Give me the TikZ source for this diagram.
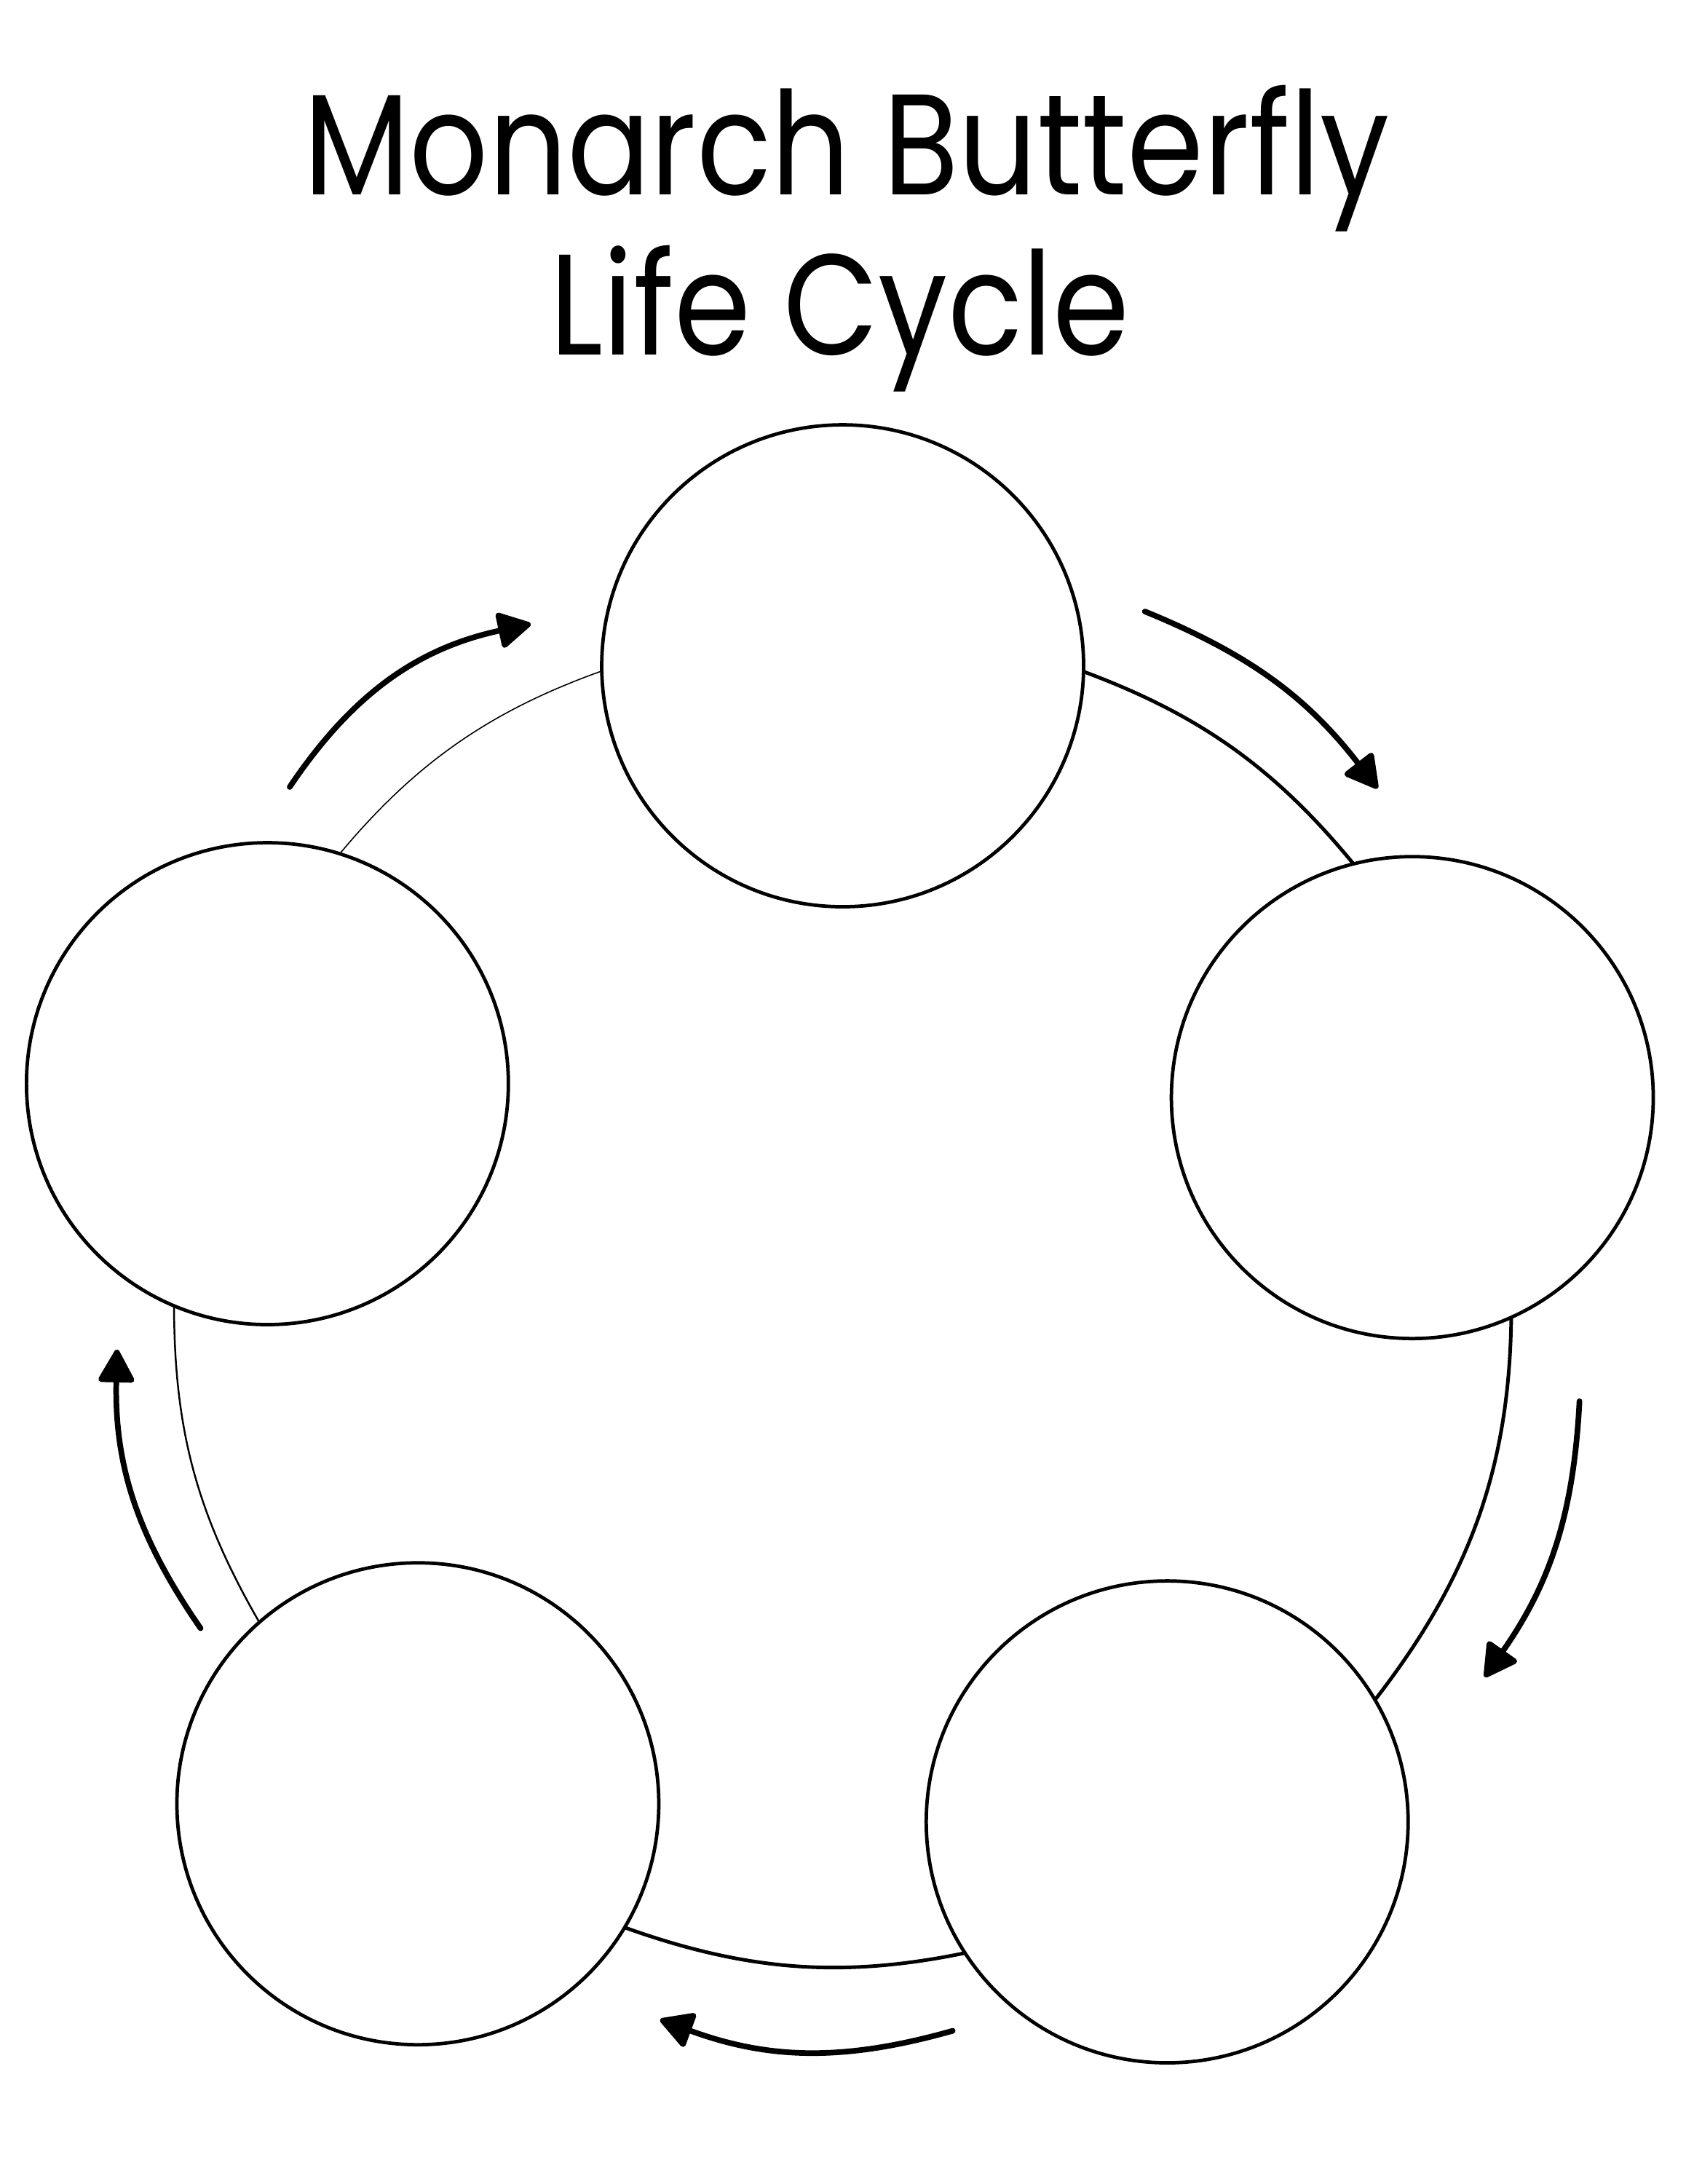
\documentclass[tikz,border=0pt]{standalone}
\usepackage{fontspec}
\newfontfamily\titlefont{Poppins}[FakeStretch=0.86]
\usetikzlibrary{positioning,calc,arrows,arrows.meta,backgrounds}
\tikzset{font=\small}

\begin{document}
\begin{tikzpicture}[x=0.019132cm, y=0.019132cm]
	\useasboundingbox (0,0) rectangle (1210,-1568);
	\begin{scope}
		\tikzstyle{stage}=[circle, draw, line width=1.35pt, fill=white, minimum size=6.62cm, inner sep=0pt]
		\tikzstyle{ringthin}=[line width=0.45pt]
		\tikzstyle{ringmid}=[line width=0.7pt]
		\tikzstyle{ringthick}=[line width=1.4pt]
		\tikzstyle{cyclearrow}=[line width=2.2pt, line cap=round, -{Triangle[length=14pt, width=15pt, round]}]

		% title
		\node[anchor=base, inner sep=0pt] (title) at (608,-140) {\titlefont\fontsize{56}{64}\selectfont Monarch Butterfly};
		\node[anchor=base, inner sep=0pt] (subtitle) at (603,-255) {\titlefont\fontsize{56}{64}\selectfont Life Cycle};

		% stages
		\node[stage] (top) at (605, -478) {};
		\node[stage] (right) at (1014, -788) {};
		\node[stage] (bright) at (838, -1308) {};
		\node[stage] (bleft) at (300, -1295) {};
		\node[stage] (left) at (192, -778) {};

		% ring behind the stages
		\coordinate (hub) at (605, -930);
		\coordinate (rl1) at ($(hub)+(143:480)$);
		\coordinate (rt1) at ($(hub)+(107:480)$);
		\coordinate (rt2) at ($(hub)+(72:480)$);
		\coordinate (rr1) at ($(hub)+(37:480)$);
		\coordinate (rr2) at ($(hub)+(3:480)$);
		\coordinate (rbr1) at ($(hub)+(-40:480)$);
		\coordinate (rbr2) at ($(hub)+(-75:480)$);
		\coordinate (rbl1) at ($(hub)+(-112:480)$);
		\coordinate (rbl2) at ($(hub)+(-149:480)$);
		\coordinate (rl2) at ($(hub)+(-181:480)$);
		\begin{scope}[on background layer]
			\draw[ringthin ] (rl1) to[bend left=18] (rt1);
			\draw[ringthick] (rt2) to[bend left=17] (rr1);
			\draw[ringthick] (rr2) to[bend left=21] (rbr1);
			\draw[ringthick] (rbr2) to[bend left=18] (rbl1);
			\draw[ringmid  ] (rbl2) to[bend left=16] (rl2);
		\end{scope}

		% arrows
		\coordinate (a1s) at (208, -565);
		\coordinate (a1e) at (381, -448);
		\coordinate (a2s) at (822, -439);
		\coordinate (a2e) at (989, -566);
		\coordinate (a3s) at (1134, -1006);
		\coordinate (a3e) at (1066, -1204);
		\coordinate (a4s) at (684, -1458);
		\coordinate (a4e) at (474, -1450);
		\coordinate (a5s) at (144, -1169);
		\coordinate (a5e) at (84, -969);

		\draw[cyclearrow] (a1s) to[bend left=22] (a1e);
		\draw[cyclearrow] (a2s) to[bend left=15] (a2e);
		\draw[cyclearrow] (a3s) to[bend left=16] (a3e);
		\draw[cyclearrow] (a4s) to[bend left=18] (a4e);
		\draw[cyclearrow] (a5s) to[bend left=18] (a5e);
	\end{scope}
\end{tikzpicture}
\end{document}
